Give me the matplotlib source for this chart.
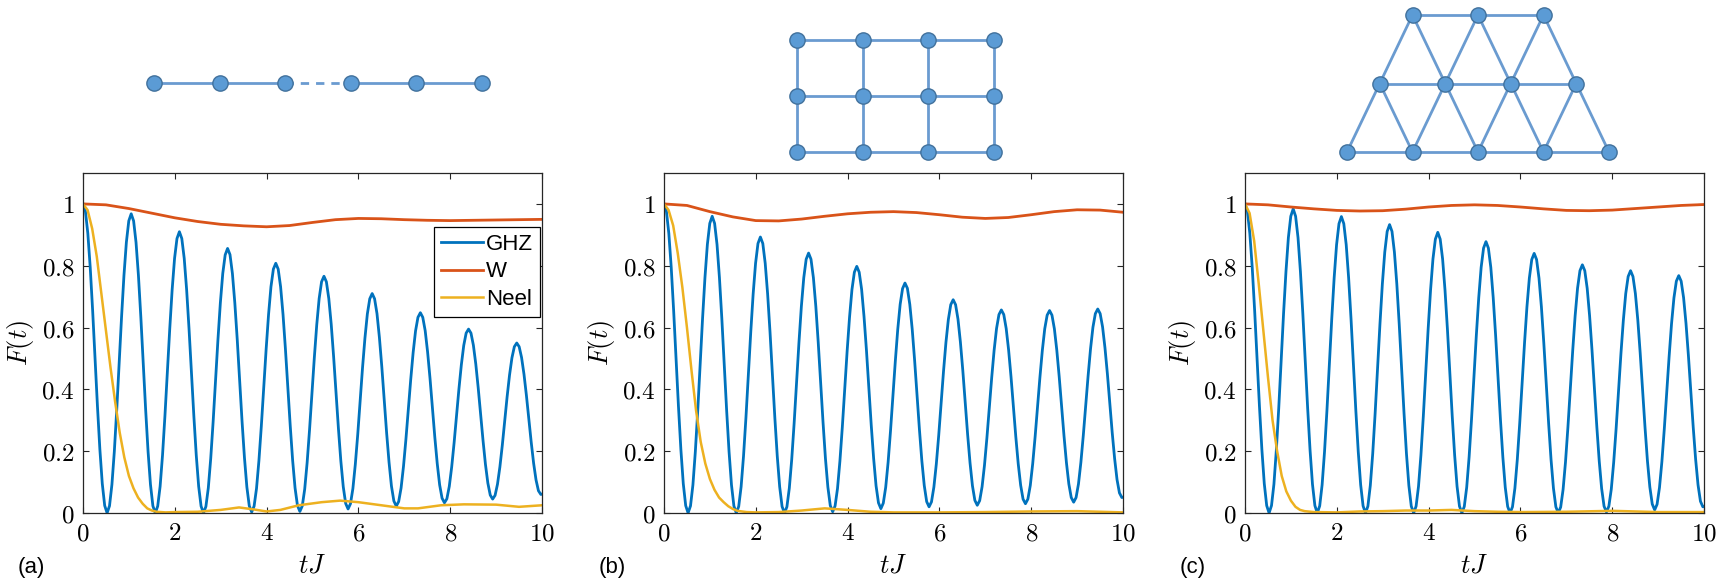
import numpy as np
import matplotlib
matplotlib.use('Agg')
import matplotlib.pyplot as plt

plt.rcParams['mathtext.fontset'] = 'cm'
plt.rcParams['font.family'] = ['Liberation Sans', 'DejaVu Sans']

# ---------------------------------------------------------------- data
# GHZ fidelity sampled every 0.0525 (twenty samples per oscillation), plus tJ = 10
t_ghz = np.append(np.arange(191) * 0.0525, 10.0)

ghz_a = [1.0, 0.976, 0.905, 0.794, 0.655, 0.5, 0.345, 0.206, 0.095, 0.024,
         0.0, 0.023, 0.092, 0.199, 0.334, 0.484, 0.634, 0.769, 0.876, 0.945,
         0.968, 0.945, 0.876, 0.769, 0.634, 0.484, 0.334, 0.199, 0.092, 0.023,
         0.0, 0.022, 0.086, 0.187, 0.314, 0.455, 0.596, 0.723, 0.824, 0.888,
         0.91, 0.888, 0.824, 0.723, 0.596, 0.455, 0.314, 0.187, 0.086, 0.022,
         0.0, 0.021, 0.081, 0.176, 0.295, 0.428, 0.561, 0.680, 0.775, 0.835,
         0.856, 0.836, 0.775, 0.680, 0.562, 0.430, 0.297, 0.179, 0.084, 0.023,
         0.003, 0.022, 0.079, 0.169, 0.281, 0.406, 0.530, 0.642, 0.732, 0.789,
         0.808, 0.789, 0.732, 0.643, 0.531, 0.407, 0.282, 0.170, 0.081, 0.024,
         0.005, 0.023, 0.077, 0.162, 0.268, 0.386, 0.503, 0.609, 0.694, 0.748,
         0.766, 0.748, 0.694, 0.611, 0.506, 0.390, 0.273, 0.168, 0.085, 0.031,
         0.013, 0.030, 0.079, 0.157, 0.253, 0.362, 0.470, 0.566, 0.644, 0.693,
         0.71, 0.693, 0.645, 0.568, 0.473, 0.366, 0.259, 0.164, 0.087, 0.039,
         0.022, 0.037, 0.081, 0.151, 0.238, 0.335, 0.432, 0.519, 0.589, 0.633,
         0.648, 0.633, 0.590, 0.521, 0.436, 0.341, 0.245, 0.160, 0.091, 0.048,
         0.033, 0.046, 0.086, 0.149, 0.227, 0.314, 0.401, 0.479, 0.542, 0.582,
         0.595, 0.582, 0.543, 0.482, 0.405, 0.320, 0.235, 0.158, 0.097, 0.058,
         0.045, 0.057, 0.093, 0.149, 0.219, 0.298, 0.376, 0.446, 0.502, 0.538,
         0.55, 0.538, 0.503, 0.449, 0.381, 0.305, 0.229, 0.161, 0.107, 0.072,
         0.06, 0.061]
ghz_b = [1.0, 0.976, 0.905, 0.794, 0.655, 0.5, 0.345, 0.206, 0.095, 0.024,
         0.0, 0.023, 0.091, 0.198, 0.331, 0.48, 0.629, 0.762, 0.869, 0.937,
         0.96, 0.937, 0.869, 0.762, 0.629, 0.48, 0.331, 0.198, 0.091, 0.023,
         0.0, 0.021, 0.085, 0.184, 0.308, 0.447, 0.585, 0.709, 0.808, 0.872,
         0.893, 0.872, 0.808, 0.709, 0.585, 0.447, 0.308, 0.184, 0.085, 0.021,
         0.0, 0.020, 0.080, 0.173, 0.290, 0.421, 0.551, 0.668, 0.761, 0.821,
         0.841, 0.821, 0.761, 0.669, 0.552, 0.423, 0.293, 0.176, 0.084, 0.024,
         0.004, 0.023, 0.079, 0.168, 0.278, 0.401, 0.524, 0.634, 0.723, 0.779,
         0.798, 0.779, 0.724, 0.636, 0.528, 0.406, 0.284, 0.176, 0.088, 0.033,
         0.014, 0.032, 0.083, 0.164, 0.266, 0.379, 0.492, 0.594, 0.675, 0.726,
         0.744, 0.727, 0.675, 0.595, 0.494, 0.382, 0.270, 0.169, 0.089, 0.037,
         0.02, 0.036, 0.084, 0.158, 0.251, 0.355, 0.459, 0.552, 0.626, 0.674,
         0.69, 0.674, 0.627, 0.553, 0.461, 0.358, 0.254, 0.162, 0.088, 0.041,
         0.025, 0.040, 0.085, 0.155, 0.243, 0.341, 0.439, 0.527, 0.597, 0.642,
         0.657, 0.642, 0.597, 0.528, 0.441, 0.344, 0.246, 0.159, 0.090, 0.045,
         0.03, 0.045, 0.089, 0.159, 0.246, 0.343, 0.439, 0.526, 0.596, 0.640,
         0.655, 0.640, 0.596, 0.527, 0.441, 0.345, 0.249, 0.163, 0.094, 0.050,
         0.035, 0.050, 0.094, 0.164, 0.251, 0.348, 0.444, 0.531, 0.601, 0.645,
         0.66, 0.645, 0.602, 0.534, 0.450, 0.355, 0.260, 0.176, 0.108, 0.065,
         0.05, 0.051]
ghz_c = [1.0, 0.976, 0.905, 0.794, 0.655, 0.5, 0.345, 0.206, 0.095, 0.024,
         0.0, 0.024, 0.093, 0.203, 0.339, 0.492, 0.645, 0.781, 0.891, 0.960,
         0.984, 0.960, 0.891, 0.781, 0.645, 0.492, 0.339, 0.203, 0.093, 0.024,
         0.0, 0.023, 0.091, 0.198, 0.331, 0.480, 0.628, 0.761, 0.868, 0.936,
         0.959, 0.936, 0.868, 0.761, 0.628, 0.480, 0.331, 0.198, 0.091, 0.023,
         0.0, 0.022, 0.089, 0.192, 0.322, 0.467, 0.611, 0.741, 0.844, 0.911,
         0.933, 0.911, 0.844, 0.741, 0.611, 0.467, 0.322, 0.192, 0.089, 0.022,
         0.0, 0.022, 0.086, 0.187, 0.313, 0.454, 0.595, 0.721, 0.822, 0.886,
         0.908, 0.886, 0.822, 0.721, 0.595, 0.454, 0.313, 0.187, 0.086, 0.022,
         0.0, 0.021, 0.083, 0.181, 0.303, 0.439, 0.575, 0.697, 0.795, 0.857,
         0.878, 0.857, 0.795, 0.697, 0.575, 0.439, 0.303, 0.181, 0.083, 0.021,
         0.0, 0.020, 0.080, 0.173, 0.290, 0.420, 0.550, 0.667, 0.760, 0.820,
         0.84, 0.820, 0.760, 0.667, 0.550, 0.420, 0.290, 0.173, 0.080, 0.020,
         0.0, 0.019, 0.076, 0.165, 0.277, 0.402, 0.526, 0.638, 0.727, 0.784,
         0.803, 0.784, 0.727, 0.638, 0.527, 0.403, 0.279, 0.168, 0.079, 0.022,
         0.003, 0.022, 0.077, 0.164, 0.272, 0.394, 0.515, 0.623, 0.710, 0.765,
         0.784, 0.765, 0.710, 0.625, 0.517, 0.397, 0.277, 0.169, 0.084, 0.029,
         0.01, 0.028, 0.082, 0.166, 0.272, 0.389, 0.506, 0.612, 0.696, 0.750,
         0.768, 0.750, 0.697, 0.614, 0.510, 0.394, 0.278, 0.174, 0.091, 0.038,
         0.02, 0.021]

# W-state fidelity, every 0.5
t_w = np.arange(21) * 0.5
w_a = [1.0, 0.997, 0.985, 0.97, 0.955, 0.943, 0.934, 0.929, 0.926, 0.93, 0.94,
       0.949, 0.953, 0.952, 0.949, 0.947, 0.946, 0.947, 0.948, 0.949, 0.95]
w_b = [1.0, 0.995, 0.975, 0.958, 0.946, 0.945, 0.951, 0.96, 0.968, 0.973, 0.975,
       0.972, 0.965, 0.957, 0.953, 0.956, 0.965, 0.975, 0.981, 0.98, 0.973]
w_c = [1.0, 0.997, 0.99, 0.984, 0.979, 0.977, 0.978, 0.983, 0.99, 0.995, 0.997,
       0.995, 0.99, 0.984, 0.979, 0.978, 0.98, 0.985, 0.99, 0.995, 0.998]

# Neel-state fidelity
t_neel_a = [0, 0.1, 0.2, 0.3, 0.4, 0.5, 0.6, 0.7, 0.8, 0.9, 1.0, 1.1, 1.2, 1.3, 1.4,
            1.5, 1.6, 1.8, 2.0, 2.5, 3.0, 3.4, 3.7, 4.0, 4.3, 4.7, 5.2, 5.6, 6.0,
            6.5, 7.0, 7.3, 7.8, 8.3, 9.0, 9.5, 10.0]
neel_a = [1.0, 0.98, 0.92, 0.83, 0.71, 0.59, 0.47, 0.36, 0.26, 0.18, 0.12, 0.08,
          0.05, 0.03, 0.015, 0.008, 0.004, 0.002, 0.003, 0.004, 0.01, 0.018, 0.012,
          0.005, 0.01, 0.025, 0.035, 0.04, 0.035, 0.025, 0.015, 0.015, 0.025, 0.028,
          0.027, 0.02, 0.025]
t_neel_b = [0, 0.1, 0.2, 0.3, 0.4, 0.5, 0.6, 0.7, 0.8, 0.9, 1.0, 1.1, 1.2, 1.3, 1.4,
            1.5, 1.6, 1.8, 2.0, 2.5, 3.0, 3.5, 4.0, 4.5, 5.0, 6.0, 7.0, 8.0, 9.0,
            9.5, 10.0]
neel_b = [1.0, 0.98, 0.93, 0.84, 0.73, 0.60, 0.46, 0.33, 0.23, 0.16, 0.11, 0.075,
          0.05, 0.035, 0.022, 0.013, 0.007, 0.003, 0.002, 0.003, 0.008, 0.015, 0.01,
          0.004, 0.002, 0.002, 0.003, 0.005, 0.006, 0.004, 0.002]
t_neel_c = [0, 0.1, 0.2, 0.3, 0.4, 0.5, 0.6, 0.7, 0.8, 0.9, 1.0, 1.1, 1.2, 1.3, 1.5,
            2.0, 2.5, 3.0, 3.5, 4.0, 4.5, 5.0, 5.5, 6.0, 7.0, 8.0, 8.5, 9.0, 10.0]
neel_c = [1.0, 0.97, 0.88, 0.74, 0.59, 0.44, 0.30, 0.20, 0.12, 0.07, 0.04, 0.02,
          0.01, 0.006, 0.003, 0.002, 0.005, 0.006, 0.008, 0.008, 0.01, 0.006, 0.004,
          0.003, 0.004, 0.007, 0.005, 0.003, 0.003]

series_names = ['GHZ', 'W', 'Neel']
panel_tags = ['(a)', '(b)', '(c)']
x_ticks = [0, 2, 4, 6, 8, 10]
y_ticks = [0, 0.2, 0.4, 0.6, 0.8, 1]
y_tick_labels = ['0', '0.2', '0.4', '0.6', '0.8', '1']

panels = [
    (ghz_a, w_a, t_neel_a, neel_a),
    (ghz_b, w_b, t_neel_b, neel_b),
    (ghz_c, w_c, t_neel_c, neel_c),
]

colors = ['#0072BD', '#D95319', '#EDB120']

# ---------------------------------------------------------------- figure
W_PX, H_PX = 1725, 588
fig = plt.figure(figsize=(W_PX / 100, H_PX / 100), dpi=100)

# lattice sketches drawn on a full-figure overlay in pixel units
ov = fig.add_axes([0, 0, 1, 1])
ov.set_xlim(0, W_PX)
ov.set_ylim(H_PX, 0)
ov.axis('off')

node_kw = dict(marker='o', ms=11, mfc='#5B9BD5', mec='#41719C', mew=1.0,
               ls='none', zorder=3)
edge_kw = dict(color='#6A9BD0', lw=2.0, zorder=2)
sp = 65.5

# 1D chain
x0, y0 = 154, 83
chain = [x0 + sp * i for i in range(6)]
for i in range(5):
    ov.plot([chain[i], chain[i + 1]], [y0, y0],
            ls=(0, (3, 2.5)) if i == 2 else '-', **edge_kw)
ov.plot(chain, [y0] * 6, **node_kw)

# square lattice 3 x 4
x0, y0, dy = 797, 40, 56
for r in range(3):
    ov.plot([x0, x0 + 3 * sp], [y0 + r * dy] * 2, **edge_kw)
for c in range(4):
    ov.plot([x0 + c * sp] * 2, [y0, y0 + 2 * dy], **edge_kw)
for r in range(3):
    ov.plot([x0 + c * sp for c in range(4)], [y0 + r * dy] * 4, **node_kw)

# triangular lattice, rows of 5, 4, 3 nodes (bottom to top)
x0, y0, dy = 1347, 152, 68.5
rows = []
for r, n in enumerate([5, 4, 3]):
    rows.append([(x0 + r * sp / 2 + j * sp, y0 - r * dy) for j in range(n)])
for r, row in enumerate(rows):
    ov.plot([row[0][0], row[-1][0]], [row[0][1]] * 2, **edge_kw)
    if r > 0:
        below = rows[r - 1]
        for j, (x, y) in enumerate(row):
            for k in (j, j + 1):
                ov.plot([x, below[k][0]], [y, below[k][1]], **edge_kw)
for row in rows:
    ov.plot([p[0] for p in row], [p[1] for p in row], **node_kw)

# ---------------------------------------------------------------- plots
ax_left = [83, 664, 1245]
ax_w, ax_top, ax_bot = 459, 173, 513

for k, (ghz, w, tn, neel) in enumerate(panels):
    ax = fig.add_axes([ax_left[k] / W_PX, 1 - ax_bot / H_PX,
                       ax_w / W_PX, (ax_bot - ax_top) / H_PX])
    ax.plot(t_ghz, ghz, color=colors[0], lw=2.0, label=series_names[0])
    ax.plot(t_w, w, color=colors[1], lw=2.0, label=series_names[1])
    ax.plot(tn, neel, color=colors[2], lw=1.8, label=series_names[2])
    ax.set_xlim(0, 10)
    ax.set_ylim(0, 1.1)
    ax.set_xticks(x_ticks)
    ax.set_xticklabels(['$%d$' % v for v in x_ticks])
    ax.set_yticks(y_ticks)
    ax.set_yticklabels(['$%s$' % s for s in y_tick_labels])
    ax.tick_params(direction='in', top=True, right=True, length=4,
                   width=0.8, labelsize=18, pad=6, color='#262626')
    for s in ax.spines.values():
        s.set_linewidth(0.9)
        s.set_color('#262626')
    ax.set_xlabel('$tJ$', fontsize=19, labelpad=6)
    ax.set_ylabel('$F(t)$', fontsize=19, labelpad=4)
    fig.text((ax_left[k] - 52) / W_PX, 1 - 567 / H_PX, panel_tags[k],
             fontsize=16, ha='center', va='center')
    if k == 0:
        ax.legend(loc='upper right', bbox_to_anchor=(0.996, 0.841),
                  borderaxespad=0, fancybox=False, edgecolor='black',
                  framealpha=1, fontsize=16, handlelength=1.9,
                  handletextpad=0.15, labelspacing=0.3, borderpad=0.3)
        ax.get_legend().get_frame().set_linewidth(0.9)

fig.savefig('out.png', dpi=100)
